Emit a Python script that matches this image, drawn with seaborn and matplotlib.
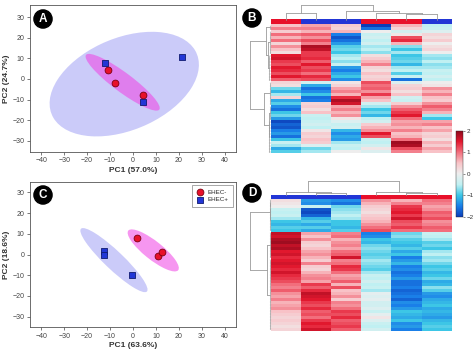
import numpy as np
import pandas as pd
import matplotlib
matplotlib.use("Agg")
import matplotlib.pyplot as plt
import seaborn as sns
from matplotlib.patches import Ellipse
from matplotlib.colors import LinearSegmentedColormap, ListedColormap

sns.set_style("white")
plt.rcParams["font.family"] = ["Liberation Sans", "DejaVu Sans"]

# PCA scores
groups = ["EHEC-", "EHEC-", "EHEC-", "EHEC+", "EHEC+", "EHEC+"]
pc1_a = [-11.0, -7.8, 4.5, -12.0, 4.2, 21.4]
pc2_a = [4.4, -2.0, -8.0, 8.0, -11.0, 10.6]
pc1_c = [1.6, 10.9, 12.5, -12.5, -12.7, -0.4]
pc2_c = [8.0, -0.8, 1.0, 1.5, -0.1, -9.8]

# confidence ellipses: centre x, centre y, width, height, angle
ell_a_neg = [-4.5, -1.6, 41.6, 9.0, -40]
ell_a_pos = [-3.8, -2.5, 70.0, 44.0, 28]
ell_c_neg = [8.85, 2.0, 29.0, 8.5, -41.8]
ell_c_pos = [-8.3, -2.7, 41.8, 8.5, -46.7]

# heatmap B (rows = features, columns = samples)
sample_groups_b = ["EHEC-", "EHEC+", "EHEC+", "EHEC-", "EHEC-", "EHEC+"]
heat_b = [
    [0.5, 0.7, 0.4, -2.0, 0.6, -0.5],
    [0.9, 0.9, 0.3, -1.6, 0.3, -0.4],
    [0.4, 0.6, 0.6, 0.0, -0.3, -0.2],
    [1.0, 1.1, -1.5, -0.4, 0.1, 0.3],
    [0.6, 0.8, -1.8, -0.3, 1.2, 0.2],
    [1.0, 1.2, -1.6, -0.5, 1.4, 0.4],
    [0.3, 0.9, -1.3, -0.3, 0.6, 0.0],
    [0.8, 1.8, -0.9, -0.6, -0.7, 0.2],
    [0.5, 1.7, -0.8, -0.5, -1.0, 0.3],
    [0.2, 1.3, -1.0, -0.7, -0.6, 0.0],
    [1.5, 1.3, -0.6, 0.2, -1.0, -0.6],
    [1.6, 1.4, -0.5, 0.4, -0.9, -0.7],
    [1.3, 1.1, -0.7, 0.6, -0.8, -0.5],
    [1.2, 1.5, -0.4, 0.9, -1.1, -0.7],
    [1.5, 1.2, -1.3, 0.3, -0.6, -0.6],
    [1.4, 1.3, -1.5, 0.2, -0.5, -0.4],
    [1.2, 1.0, -1.2, 0.5, -0.9, -0.5],
    [1.5, 1.4, -1.0, 0.3, -0.4, -0.3],
    [1.1, 1.2, -1.4, 0.4, -1.6, -0.5],
    [0.3, -0.3, 0.1, 1.2, -0.2, 0.0],
    [0.2, -1.2, 0.3, 1.0, 0.3, 0.1],
    [-0.8, -1.6, 0.7, 1.1, 0.4, 0.8],
    [-1.1, -1.4, 0.9, 0.8, 0.2, 0.6],
    [-0.6, -1.0, 0.6, 1.3, 0.5, 0.9],
    [0.3, -1.6, 1.4, 0.7, -0.3, 0.5],
    [-1.2, -1.5, 1.8, 0.5, -0.4, 0.4],
    [-0.9, 0.3, 1.6, -0.3, 0.4, 0.8],
    [-1.4, 0.4, 0.7, -0.6, 0.8, 1.1],
    [-1.6, 0.2, 0.9, -1.0, 1.1, 0.9],
    [-1.0, 0.5, 0.6, -0.8, 1.3, 0.6],
    [-0.8, -0.4, 0.8, -1.1, 1.5, -0.6],
    [-1.3, -0.5, 0.1, -0.5, 1.0, -1.0],
    [-1.9, -0.4, -0.2, -0.3, 0.7, 0.7],
    [-1.7, -0.3, -0.4, 0.4, 0.8, 0.9],
    [-1.8, -0.5, -0.3, 0.6, 0.6, 0.5],
    [-1.5, 0.1, -1.1, 0.8, 0.9, 0.7],
    [-1.3, 0.4, -1.4, 1.5, 0.5, 0.3],
    [-1.6, 0.3, -1.2, 1.2, 0.6, 0.4],
    [-1.0, 0.5, -1.3, -0.4, 1.0, 0.2],
    [-0.4, 0.4, -0.6, -0.5, 1.9, 0.6],
    [-0.6, -0.2, -0.4, -0.3, 1.8, 0.4],
    [-1.2, -0.8, -0.5, 0.1, 1.2, 0.7],
    [-0.9, -0.6, 0.0, -0.2, 0.9, 0.5],
]

# heatmap D
sample_groups_d = ["EHEC+", "EHEC+", "EHEC+", "EHEC-", "EHEC-", "EHEC-"]
heat_d = [
    [0.2, -1.3, -1.4, 0.8, 0.6, 1.0],
    [0.1, -1.4, -1.6, 0.6, 0.9, 0.9],
    [0.0, -0.4, -0.8, 0.4, 1.3, 0.7],
    [-0.4, -1.8, -0.7, 0.3, 1.4, 0.8],
    [-0.5, -1.9, -0.6, 0.2, 1.5, 1.1],
    [-0.4, -1.7, -0.5, 0.4, 1.3, 1.0],
    [-0.6, -1.1, -0.6, 0.5, 1.6, 1.2],
    [-1.0, -0.9, -1.0, 0.6, 1.2, 0.8],
    [-1.1, -1.2, -1.0, 0.8, 1.1, 0.9],
    [-0.9, -0.9, -1.1, 1.0, 1.3, 1.1],
    [-1.0, -1.2, -0.9, 1.2, 1.0, 1.0],
    [1.7, 0.7, 0.9, -1.5, -0.8, -0.4],
    [1.6, 0.5, 1.0, -1.4, -0.7, -0.5],
    [1.8, 0.8, 0.6, -1.0, -0.9, -0.6],
    [1.9, 0.4, 0.8, -1.1, -1.0, -0.9],
    [1.7, 0.3, 0.9, -0.8, -1.1, -0.8],
    [1.8, 0.5, 0.7, -0.7, -0.9, -1.0],
    [1.5, 0.7, 1.0, -0.8, -1.2, -0.6],
    [1.6, 0.8, 1.1, -0.9, -1.0, -0.5],
    [1.4, 0.6, 1.6, -0.8, -1.5, -0.7],
    [1.5, 0.4, 0.9, -0.6, -1.3, -0.6],
    [1.6, 0.9, 1.0, -0.7, -1.1, -0.8],
    [1.5, 0.4, 1.4, -0.8, -1.5, -1.0],
    [1.4, 0.3, 1.3, -0.9, -1.4, -0.9],
    [1.6, 0.6, 1.0, -0.6, -1.6, -1.1],
    [1.4, 0.8, 0.7, -0.4, -1.5, -1.0],
    [1.3, 0.9, 0.8, -0.5, -1.3, -0.8],
    [1.2, 0.7, 1.1, -0.3, -1.6, -1.2],
    [1.0, 1.3, 0.6, -0.5, -1.6, -1.1],
    [0.9, 1.1, 1.2, -0.4, -1.5, -0.7],
    [1.1, 1.4, 0.5, -0.6, -1.7, -0.9],
    [0.8, 1.7, 0.6, -0.1, -1.6, -1.3],
    [0.7, 1.6, 0.8, -0.2, -1.5, -1.4],
    [0.9, 1.5, 0.4, -0.1, -1.7, -1.2],
    [0.6, 1.3, 0.9, -0.3, -1.4, -1.1],
    [0.7, 1.2, 0.8, -0.3, -1.5, -1.0],
    [0.8, 1.4, 1.0, -0.2, -1.3, -1.2],
    [0.5, 1.1, 1.3, -0.4, -1.0, -1.1],
    [0.4, 1.2, 1.2, -0.1, -1.1, -1.2],
    [0.3, 1.0, 1.4, 0.1, -1.2, -1.3],
    [0.4, 1.3, 1.1, -0.2, -1.0, -1.1],
    [0.3, 1.5, 1.2, -0.4, -1.4, -1.0],
    [0.2, 1.4, 1.3, -0.5, -1.3, -0.9],
    [0.3, 1.6, 1.1, -0.3, -1.5, -1.0],
]

# dendrograms: (height, left, right); int = sample; [first, last, height] = block of rows
col_tree_b = (1.0, (0.42, 0, 1), (0.62, 2, (0.47, 3, (0.37, 4, 5))))
col_tree_d = (1.0, (0.23, 0, (0.12, 1, 2)), (0.23, 3, (0.12, 4, 5)))
row_tree_b = (1.0,
              (0.22, [0, 1, 0.05], (0.12, [2, 9, 0.05], [10, 18, 0.06])),
              (0.3, [19, 26, 0.05], (0.1, [27, 31, 0.04], [32, 42, 0.06])))
row_tree_d = (1.0,
              (0.04, [0, 2, 0.02], [3, 10, 0.02]),
              (0.16, [11, 19, 0.05], [20, 43, 0.05]))

red = "#e8102a"
blue = "#2236d6"
group_colors = {"EHEC-": red, "EHEC+": blue}
group_edges = {"EHEC-": "#7a0010", "EHEC+": "#101a70"}
group_markers = {"EHEC-": "o", "EHEC+": "s"}

heat_cmap = LinearSegmentedColormap.from_list(
    "bcwr", ["#0b3db8", "#1a7fe8", "#3cc6e6", "#bff0f2", "#eeeeee",
             "#f8c4c8", "#f2707e", "#e3182f", "#8e0a1c"])

fig = plt.figure(figsize=(4.74, 3.55), dpi=100)


def pca_panel(rect, pc1, pc2, ell_neg, ell_pos, ylim, xlabel, ylabel, legend):
    ax = fig.add_axes(rect)
    for e, col, a in [(ell_pos, "#8c8cf2", 0.45), (ell_neg, "#f040e4", 0.55)]:
        ax.add_patch(Ellipse((e[0], e[1]), e[2], e[3], angle=e[4],
                             facecolor=col, edgecolor="none", alpha=a))
    df = pd.DataFrame({"pc1": pc1, "pc2": pc2, "group": groups})
    for g in ["EHEC-", "EHEC+"]:
        sub = df[df["group"] == g]
        sns.scatterplot(data=sub, x="pc1", y="pc2", ax=ax, marker=group_markers[g],
                        color=group_colors[g], edgecolor=group_edges[g],
                        linewidth=0.6, s=24, label=g, zorder=3)
    ax.set_xlim(-45, 45)
    ax.set_ylim(*ylim)
    ax.set_xticks(range(-40, 41, 10))
    ax.set_yticks(range(-30, 31, 10))
    ax.tick_params(labelsize=5, length=2, width=0.5, colors="#444444", pad=2,
                   bottom=True, left=True)
    for sp in ax.spines.values():
        sp.set_color("#555555")
        sp.set_linewidth(0.6)
    ax.set_xlabel(xlabel, fontsize=6, fontweight="bold", labelpad=2, color="#333333")
    ax.set_ylabel(ylabel, fontsize=6, fontweight="bold", labelpad=2, color="#333333")
    if legend:
        leg = ax.legend(loc="upper right", fontsize=4.5, frameon=True, fancybox=False,
                        borderpad=0.7, handletextpad=0.6, markerscale=1.0,
                        labelspacing=0.3, handlelength=1.2)
        leg.get_frame().set_edgecolor("#666666")
        leg.get_frame().set_linewidth(0.5)
    else:
        ax.get_legend().remove()
    return ax


def seg(ax, pos, hts, rows, lw=0.6):
    if rows:
        ax.plot(hts, pos, color="#9a9a9a", lw=lw, clip_on=False)
    else:
        ax.plot(pos, hts, color="#9a9a9a", lw=lw, clip_on=False)


def draw_tree(ax, node, rows):
    if isinstance(node, int):
        return node + 0.5, 0.0
    if isinstance(node, list):
        first, last, h = node
        for r in range(first, last + 1):
            seg(ax, [r + 0.5, r + 0.5], [0, h], rows, lw=0.3)
        seg(ax, [first + 0.5, last + 0.5], [h, h], rows, lw=0.5)
        return (first + last) / 2 + 0.5, h
    h, left, right = node
    p1, h1 = draw_tree(ax, left, rows)
    p2, h2 = draw_tree(ax, right, rows)
    seg(ax, [p1, p1], [h1, h], rows)
    seg(ax, [p2, p2], [h2, h], rows)
    seg(ax, [p1, p2], [h, h], rows)
    return (p1 + p2) / 2, h


def heat_panel(y_heat, h_heat, y_bar, h_bar, y_den, h_den, data, sample_groups,
               col_tree, row_tree):
    x0, w = 0.571, 0.382
    ax = fig.add_axes([x0, y_heat, w, h_heat])
    sns.heatmap(np.array(data), ax=ax, cmap=heat_cmap, vmin=-2, vmax=2, cbar=False,
                xticklabels=False, yticklabels=False)
    bar = fig.add_axes([x0, y_bar, w, h_bar])
    codes = [[0 if g == "EHEC-" else 1 for g in sample_groups]]
    sns.heatmap(codes, ax=bar, cmap=ListedColormap([red, blue]), vmin=0, vmax=1,
                cbar=False, xticklabels=False, yticklabels=False)
    cden = fig.add_axes([x0, y_den, w, h_den])
    draw_tree(cden, col_tree, False)
    cden.set_xlim(0, len(sample_groups))
    cden.set_ylim(0, 1)
    cden.axis("off")
    rden = fig.add_axes([0.527, y_heat, x0 - 0.527, h_heat])
    draw_tree(rden, row_tree, True)
    rden.set_xlim(1, 0)
    rden.set_ylim(len(data), 0)
    rden.axis("off")
    return ax


pca_panel([0.063, 0.572, 0.435, 0.414], pc1_a, pc2_a, ell_a_neg, ell_a_pos,
          (-35.5, 36), "PC1 (57.0%)", "PC2 (24.7%)", False)
pca_panel([0.063, 0.079, 0.435, 0.408], pc1_c, pc2_c, ell_c_neg, ell_c_pos,
          (-35, 35), "PC1 (63.6%)", "PC2 (18.6%)", True)

hb = heat_panel(0.569, 0.363, 0.9324, 0.0127, 0.945, 0.041, heat_b,
                sample_groups_b, col_tree_b, row_tree_b)
heat_panel(0.0685, 0.371, 0.4394, 0.0113, 0.4507, 0.0403, heat_d,
           sample_groups_d, col_tree_d, row_tree_d)

cax = fig.add_axes([0.962, 0.389, 0.014, 0.243])
cb = fig.colorbar(hb.collections[0], cax=cax, ticks=[-2, -1, 0, 1, 2])
cb.outline.set_linewidth(0.3)
cax.tick_params(labelsize=4.5, length=1.5, width=0.4, pad=1.5, colors="#333333")

for letter, x, y in [("A", 43, 19), ("B", 252, 18), ("C", 43, 195), ("D", 252, 193)]:
    fig.text(x / 474, 1 - y / 355, letter, ha="center", va="center", color="white",
             fontsize=8.5, fontweight="bold",
             bbox=dict(boxstyle="circle,pad=0.26", fc="black", ec="black"))

fig.savefig("out.png", dpi=100)
